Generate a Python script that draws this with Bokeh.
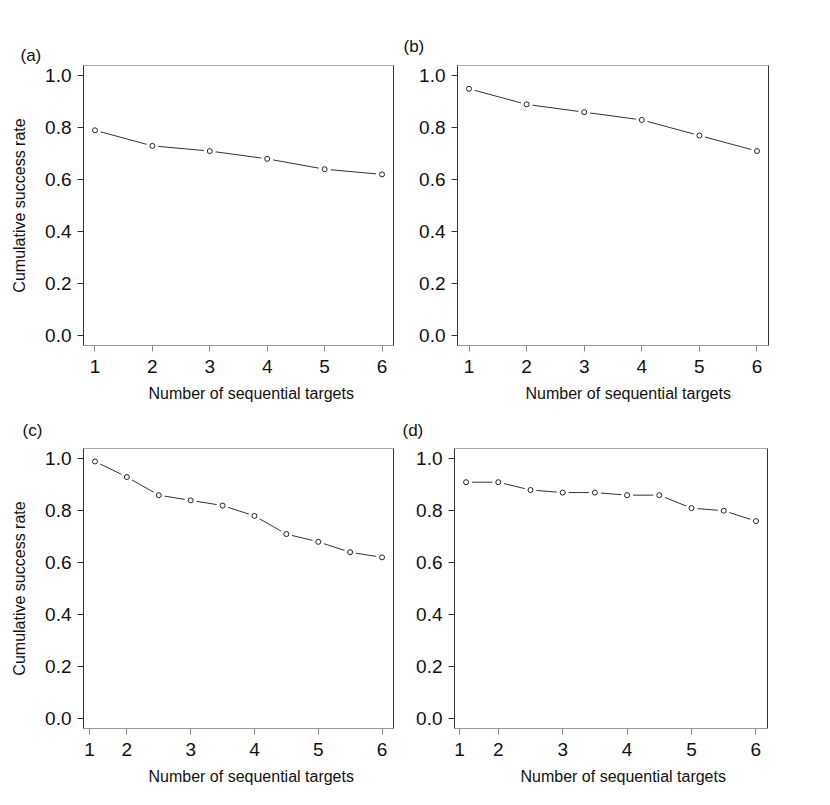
from bokeh.plotting import figure
from bokeh.models import LinearAxis, FixedTicker, NumeralTickFormatter, Range1d, Title
from bokeh.layouts import column, row
from bokeh.embed import file_html
from bokeh.resources import INLINE

# ---- data ----
x_six = [1, 2, 3, 4, 5, 6]
x_ten = [1.5, 2, 2.5, 3, 3.5, 4, 4.5, 5, 5.5, 6]
rate_a = [0.79, 0.73, 0.71, 0.68, 0.64, 0.62]
rate_b = [0.95, 0.89, 0.86, 0.83, 0.77, 0.71]
rate_c = [0.99, 0.93, 0.86, 0.84, 0.82, 0.78, 0.71, 0.68, 0.64, 0.62]
rate_d = [0.91, 0.91, 0.88, 0.87, 0.87, 0.86, 0.86, 0.81, 0.80, 0.76]
panel_letters = ["(a)", "(b)", "(c)", "(d)"]
y_ticks = [0.0, 0.2, 0.4, 0.6, 0.8, 1.0]
x_ticks_six = [1, 2, 3, 4, 5, 6]
x_ticks_ten = [2, 3, 4, 5, 6]
first_tick_label = "1"
x_title = "Number of sequential targets"
y_title = "Cumulative success rate"

FONT = "Liberation Sans"
TICK_OUT = 6


def make_panel(xs, ys, xr, yr, mb, size, letter, letter_off, letter_standoff,
               xtitle_off, show_ytitle, xticks, first_px=None, fw=310):
    p = figure(width=size[0], height=size[1], x_range=Range1d(*xr), y_range=Range1d(*yr),
               output_backend="svg", toolbar_location=None,
               min_border_left=mb[0], min_border_right=mb[1],
               min_border_top=mb[2], min_border_bottom=mb[3])
    p.xgrid.visible = False
    p.ygrid.visible = False
    p.outline_line_color = None
    p.background_fill_color = "white"
    p.border_fill_color = "white"

    # panel letter as plot title
    p.title.text = letter
    p.title.align = "left"
    p.title.offset = letter_off
    p.title.standoff = letter_standoff
    p.title.vertical_align = "middle"
    p.title.text_font = FONT
    p.title.text_font_size = "17px"
    p.title.text_font_style = "normal"
    p.title.text_color = "#111111"

    # y axis
    ya = p.yaxis[0]
    ya.ticker = FixedTicker(ticks=y_ticks)
    ya.formatter = NumeralTickFormatter(format="0.0")
    ya.major_tick_out = TICK_OUT
    ya.major_tick_in = 0
    ya.minor_tick_line_color = None
    ya.major_tick_line_color = "#333333"
    ya.axis_line_color = "#333333"
    ya.major_label_standoff = 6
    ya.major_label_text_font = FONT
    ya.major_label_text_font_size = "19px"
    ya.major_label_text_color = "#111111"
    if show_ytitle:
        ya.axis_label = y_title
        ya.axis_label_text_font = FONT
        ya.axis_label_text_font_size = "16px"
        ya.axis_label_text_font_style = "normal"
        ya.axis_label_text_color = "#111111"
        ya.axis_label_standoff = 14

    # x axis
    xa = p.xaxis[0]
    ticks = list(xticks)
    if first_px is not None:
        first_x = xr[0] + first_px * (xr[1] - xr[0]) / fw
        ticks = [first_x] + ticks
        xa.major_label_overrides = {first_x: first_tick_label}
    xa.ticker = FixedTicker(ticks=ticks)
    xa.major_tick_out = TICK_OUT
    xa.major_tick_in = 0
    xa.minor_tick_line_color = None
    xa.major_tick_line_color = "#888888"
    xa.axis_line_color = "#999999"
    xa.major_label_standoff = 8
    xa.major_label_text_font = FONT
    xa.major_label_text_font_size = "19px"
    xa.major_label_text_color = "#111111"

    # top / right frame lines
    top = LinearAxis(ticker=FixedTicker(ticks=[]), axis_line_color="#aaaaaa",
                     major_tick_line_color=None, minor_tick_line_color=None)
    right = LinearAxis(ticker=FixedTicker(ticks=[]), axis_line_color="#333333",
                       major_tick_line_color=None, minor_tick_line_color=None)
    p.add_layout(top, "above")
    p.add_layout(right, "right")

    # x title
    p.add_layout(Title(text=x_title, align="left", offset=xtitle_off, standoff=16,
                       vertical_align="middle", text_font=FONT, text_font_size="16px",
                       text_font_style="normal", text_color="#111111"), "below")

    # data
    p.line(xs, ys, line_color="#333333", line_width=1)
    p.scatter(xs, ys, size=12, fill_color="white", line_color=None)
    p.scatter(xs, ys, size=5, fill_color="white", line_color="#222222", line_width=1)
    return p


yr = (-0.04, 1.04)
pa = make_panel(x_six, rate_a, (0.8, 6.2), yr, (83, 5, 65, 66), (398, 411),
                panel_letters[0], -63, 0, 65, True, x_ticks_six)
pb = make_panel(x_six, rate_b, (0.8, 6.2), yr, (59, 14, 65, 66), (384, 411),
                panel_letters[1], -54, 18, 68, False, x_ticks_six, fw=311)
pc = make_panel(x_ten, rate_c, (1.32, 6.18), yr, (83, 5, 36, 66), (398, 383),
                panel_letters[2], -61, 16, 65, True, x_ticks_ten, first_px=6)
pd = make_panel(x_ten, rate_d, (1.32, 6.18), yr, (56, 15, 36, 66), (384, 383),
                panel_letters[3], -52, 16, 66, False, x_ticks_ten, first_px=5, fw=313)

layout = column(row(pa, pb, spacing=0), row(pc, pd, spacing=0), spacing=0)
open("out.html", "w").write(file_html(layout, INLINE))
